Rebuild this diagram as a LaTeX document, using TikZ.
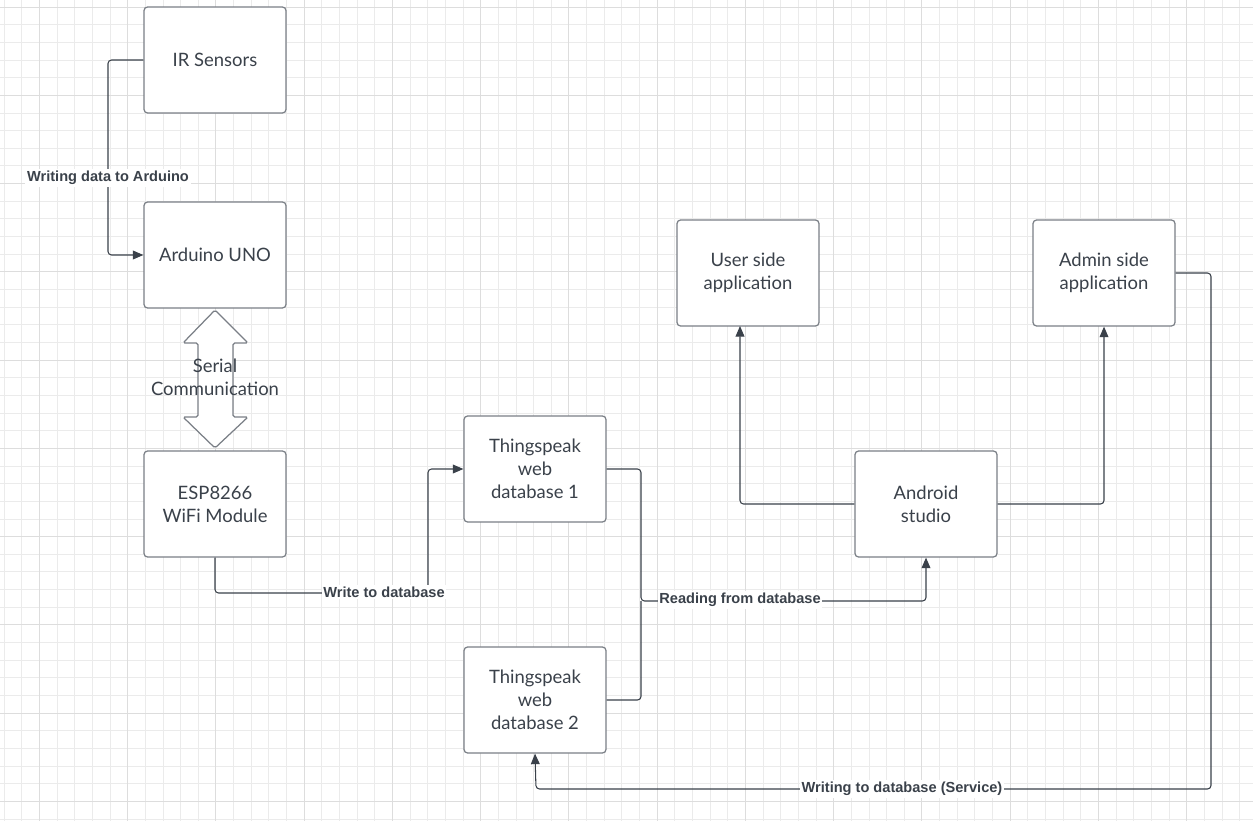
\documentclass[tikz,border=0pt]{standalone}
\usepackage{fontspec}
\setmainfont{Lato}
\newfontfamily\lblfont{Liberation Sans}
\usetikzlibrary{arrows.meta}
\definecolor{ink}{HTML}{3A414A}
\definecolor{edge}{HTML}{7A7F86}
\definecolor{gridminor}{HTML}{EBEBEB}
\definecolor{gridmajor}{HTML}{DDDDDD}
\begin{document}
\begin{tikzpicture}[x=0.02cm,y=-0.02cm,
  box/.style={draw=edge, line width=0.7pt, rounded corners=2pt, minimum width=2.84cm,
    minimum height=2.12cm, align=center, text=ink, font=\fontsize{10.5}{13}\selectfont},
  conn/.style={draw=ink, line width=0.6pt, rounded corners=2pt},
  arr/.style={conn, -{Triangle[length=6pt,width=5pt]}},
  lbl/.style={fill=white, inner sep=1pt, text=ink, font=\lblfont\bfseries\fontsize{8.3}{10}\selectfont}]
\useasboundingbox (0,0) rectangle (1253,821);
\fill[white] (0,0) rectangle (1253,821);
% grid
\foreach \i in {0,...,71} {
  \pgfmathsetmacro\gx{4+17.65*\i}
  \draw[gridminor, line width=0.4pt] (\gx,0) -- (\gx,821);
}
\foreach \i in {0,...,47} {
  \pgfmathsetmacro\gy{7+17.65*\i}
  \draw[gridminor, line width=0.4pt] (0,\gy) -- (1253,\gy);
}
\foreach \i in {0,...,14} {
  \pgfmathsetmacro\gx{39.3+88.25*\i}
  \draw[gridmajor, line width=0.5pt] (\gx,0) -- (\gx,821);
}
\foreach \i in {0,...,9} {
  \pgfmathsetmacro\gy{7+88.25*\i}
  \draw[gridmajor, line width=0.5pt] (0,\gy) -- (1253,\gy);
}
% nodes
\node[box, fill=white] (ir) at (215,60) {IR Sensors};
\node[box, fill=white] (uno) at (215,255) {Arduino UNO};
\node[box, fill=white] (esp) at (215,504) {ESP8266\\WiFi Module};
\node[box, fill=white] (ts1) at (535,469) {Thingspeak\\web\\database 1};
\node[box, fill=white] (ts2) at (535,700) {Thingspeak\\web\\database 2};
\node[box, fill=white] (user) at (748,273) {User side\\application};
\node[box, fill=white] (admin) at (1104,273) {Admin side\\application};
\node[box, fill=white] (android) at (926,504) {Android\\studio};
% serial double arrow
\draw[edge, line width=0.7pt, fill=white, rounded corners=1pt]
  (215,310) -- (248,343) -- (233,343) -- (233,417) -- (248,417) -- (215,448)
  -- (183,417) -- (198,417) -- (198,343) -- (183,343) -- cycle;
\node[text=ink, align=center, font=\fontsize{10.5}{13}\selectfont] (serial) at (215,377)
  {Serial\\Communication};
% connectors
\draw[arr] (ir.west) -- (108,60) -- (108,255) -- (uno.west);
\node[lbl] (l1) at (108,178) {Writing data to Arduino};
\draw[arr] (esp.south) -- (215,593) -- (428,593) -- (428,469) -- (ts1.west);
\node[lbl] (l2) at (384,592) {Write to database};
\draw[conn] (ts2.east) -- (641,700) -- (641,601);
\draw[arr] (ts1.east) -- (641,469) -- (641,601) -- (926,601) -- (android.south);
\node[lbl] (l3) at (740,600) {Reading from database};
\draw[arr] (android.west) -- (740,504) -- (740,326);
\draw[arr] (android.east) -- (1104,504) -- (admin.south);
\draw[arr] (admin.east) -- (1211,273) -- (1211,789) -- (536,789) -- (ts2.south);
\node[lbl] (l4) at (902,789) {Writing to database (Service)};
\end{tikzpicture}
\end{document}
